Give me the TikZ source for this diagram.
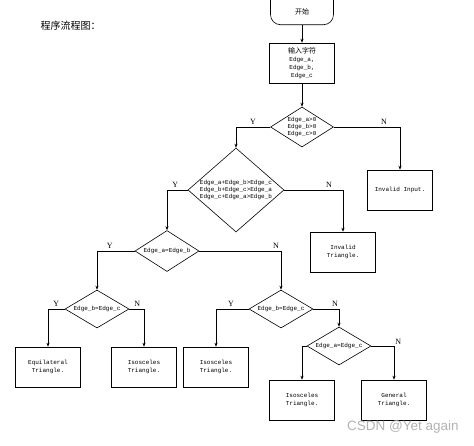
\documentclass[tikz,border=0pt]{standalone}
\usepackage{fontspec}
\setmainfont{Liberation Serif}
\setmonofont{Liberation Mono}
\setsansfont{Liberation Sans}
\newfontfamily\cjk{Noto Sans CJK SC}
\usetikzlibrary{arrows.meta,shapes.geometric}
\tikzset{
  flowbox/.style={draw, rectangle, minimum width=65pt, minimum height=40pt,
    inner sep=1pt, align=center, font=\ttfamily\fontsize{6}{8}\selectfont},
  decision/.style={draw, diamond, aspect=1.6, inner sep=0pt, align=center,
    font=\ttfamily\fontsize{6}{7}\selectfont},
  yn/.style={font=\fontsize{8}{8}\selectfont, inner sep=1pt},
  flow/.style={-{Stealth[length=4pt,width=3.2pt]}},
}
\begin{document}
\begin{tikzpicture}[x=1pt, y=-1pt, line width=0.6pt]
    \useasboundingbox (0,0) rectangle (474,445);
    \begin{scope}
        \clip (0,0) rectangle (474,445);
        \node[draw, rounded corners=10pt, minimum width=63pt, minimum height=38pt, anchor=south]
            (start) at (302,25) {\raisebox{-9pt}[0pt][0pt]{\cjk\fontsize{7}{8}\selectfont 开始}};
    \end{scope}

    \node[anchor=west, font=\cjk\fontsize{10}{10}\selectfont] (title) at (37,26) {程序流程图：};

    \node[flowbox] (input) at (302,63) {{\cjk\fontsize{7}{8}\selectfont 输入字符}\\Edge\_a,\\Edge\_b,\\Edge\_c};
    \node[decision, minimum width=63pt, minimum height=40pt] (d1) at (302,127) {Edge\_a>0\\Edge\_b>0\\Edge\_c>0};
    \node[decision, aspect=1.15, minimum width=96pt, minimum height=84pt] (d2) at (236,190)
        {Edge\_a+Edge\_b>Edge\_c\\Edge\_b+Edge\_c>Edge\_a\\Edge\_c+Edge\_a>Edge\_b};
    \node[flowbox] (badinput) at (400,190) {Invalid Input.};
    \node[flowbox] (badtri) at (343,252) {Invalid\\Triangle.};
    \node[decision, minimum width=64pt, minimum height=41pt] (d3) at (167,251) {Edge\_a=Edge\_b};
    \node[decision, minimum width=64pt, minimum height=38pt] (d4) at (97,309) {Edge\_b=Edge\_c};
    \node[decision, minimum width=64pt, minimum height=38pt] (d5) at (281,309) {Edge\_b=Edge\_c};
    \node[decision, minimum width=64pt, minimum height=38pt] (d6) at (339,346) {Edge\_a=Edge\_c};

    \node[flowbox] (equi) at (48,367) {Equilateral\\Triangle.};
    \node[flowbox] (isoa) at (144,367) {Isosceles\\Triangle.};
    \node[flowbox] (isob) at (216,367) {Isosceles\\Triangle.};
    \node[flowbox] (isoc) at (302,400) {Isosceles\\Triangle.};
    \node[flowbox] (general) at (394,400) {General\\Triangle.};

    \node[font=\sffamily\fontsize{13.5}{14}\selectfont, text=black!30] (mark) at (403,427) {CSDN @Yet again};

    \draw[flow] (start) -- (input);
    \draw[flow] (input) -- (d1);

    \draw[flow] (d1.west) -| node[yn, pos=0.25, above=1pt] {Y} (d2);
    \draw[flow] (d1.east) -| node[yn, pos=0.38, above=1pt] {N} (badinput);

    \draw[flow] (d2.west) -| node[yn, pos=0.3, above=1pt] {Y} (d3);
    \draw[flow] (d2.east) -| node[yn, pos=0.38, above=1pt] {N} (badtri);

    \draw[flow] (d3.west) -| node[yn, pos=0.33, above=1pt] {Y} (d4);
    \draw[flow] (d3.east) -| node[yn, pos=0.47, above=1pt] {N} (d5);

    \draw[flow] (d4.west) -| node[yn, pos=0.25, above=1pt] {Y} (equi);
    \draw[flow] (d4.east) -| node[yn, pos=0.27, above=1pt] {N} (isoa);

    \draw[flow] (d5.west) -| node[yn, pos=0.27, above=1pt] {Y} (isob);
    \draw[flow] (d5.east) -| node[yn, pos=0.42, above=1pt] {N} (d6);

    \draw[flow] (d6.west) -| (isoc);
    \draw[flow] (d6.east) -| node[yn, pos=0.5, anchor=south west] {N} (general);
\end{tikzpicture}
\end{document}
